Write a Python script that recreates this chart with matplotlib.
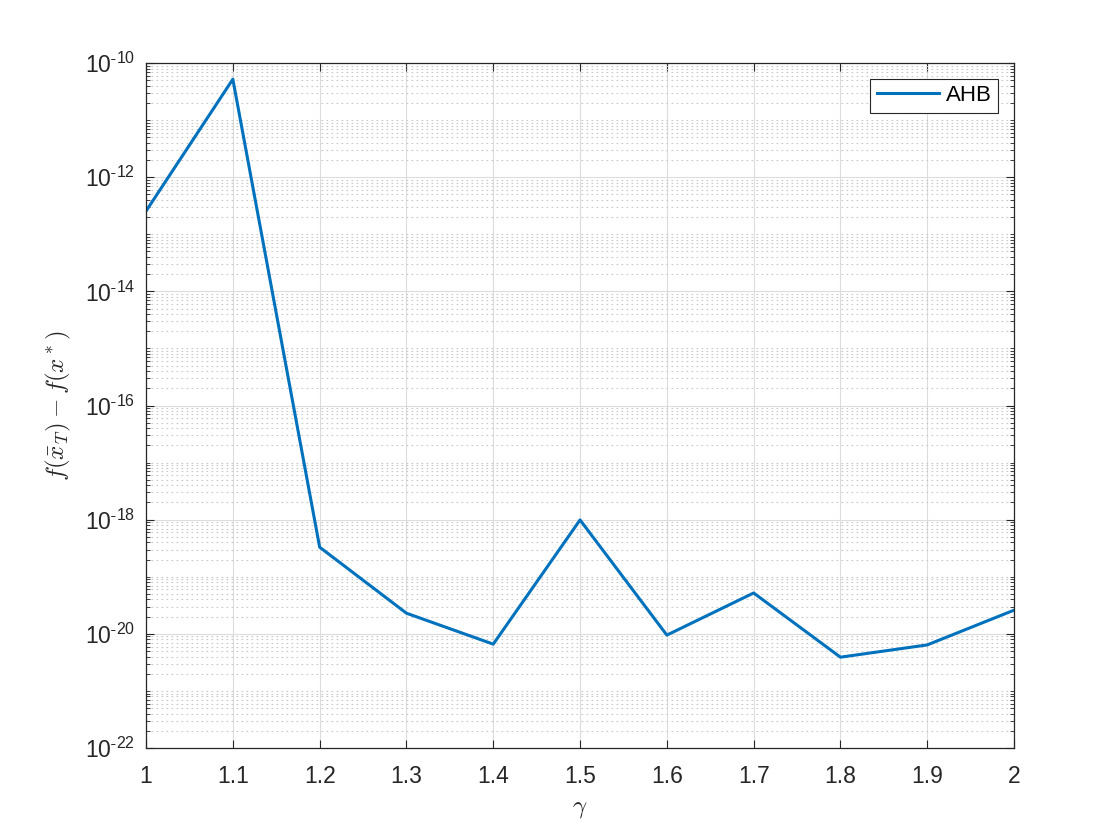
import numpy as np
import matplotlib
matplotlib.use("Agg")
import matplotlib.pyplot as plt
from matplotlib.ticker import FixedLocator, NullFormatter

gamma = [1.0, 1.1, 1.2, 1.3, 1.4, 1.5, 1.6, 1.7, 1.8, 1.9, 2.0]
gap = [2.55e-13, 5.2e-11, 3.3e-19, 2.3e-20, 6.6e-21, 9.9e-19,
       9.5e-21, 5.2e-20, 3.9e-21, 6.4e-21, 2.6e-20]
xticks = [1.0, 1.1, 1.2, 1.3, 1.4, 1.5, 1.6, 1.7, 1.8, 1.9, 2.0]
xticklabels = ["1", "1.1", "1.2", "1.3", "1.4", "1.5", "1.6", "1.7", "1.8", "1.9", "2"]
yexponents = list(range(-22, -9, 2))

plt.rcParams['font.family'] = ['Liberation Sans', 'DejaVu Sans']
plt.rcParams['mathtext.fontset'] = 'cm'

fig = plt.figure(figsize=(11.2, 8.4), dpi=100)
ax = fig.add_axes([0.1304, 0.1095, 0.775, 0.8155])

ax.plot(gamma, gap, color='#0072BD', linewidth=2.2, label='AHB')
ax.set_yscale('log')
ax.set_xlim(1, 2)
ax.set_ylim(1e-22, 1e-10)

ax.set_xticks(xticks)
ax.set_xticklabels(xticklabels)
ax.yaxis.set_major_locator(FixedLocator([10.0**e for e in yexponents]))
minor = []
for e in range(-22, -10):
    for s in range(1, 10):
        if e % 2 == 0 and s == 1:
            continue
        minor.append(s * 10.0**e)
ax.yaxis.set_minor_locator(FixedLocator(minor))
ax.yaxis.set_minor_formatter(NullFormatter())
ax.set_yticklabels([r'$\mathregular{10^{\text{-}%d}}$' % (-e) for e in yexponents])

ax.grid(True, which='major', color='#dcdcdc', linestyle='-', linewidth=0.8)
ax.grid(True, which='minor', axis='y', color='#c8c8c8', linestyle=(0, (1.5, 3)), linewidth=0.8)
ax.set_axisbelow(True)

ax.tick_params(which='both', direction='in', top=True, right=True, colors='#262626', labelsize=16.5)
ax.tick_params(which='major', length=6, width=0.8)
ax.tick_params(axis='x', which='major', pad=12)
ax.tick_params(axis='y', which='major', pad=8)
ax.tick_params(which='minor', length=3, width=0.6)
for sp in ax.spines.values():
    sp.set_color('#262626')
    sp.set_linewidth(0.9)

ax.set_xlabel(r'$\gamma$', fontsize=18, color='#262626', labelpad=6)
ax.set_ylabel(r'$f(\bar{x}_T) - f(x^*)$', fontsize=18, color='#262626', labelpad=8)

leg = ax.legend(loc='upper right', fontsize=16, frameon=True, fancybox=False,
                edgecolor='#262626', framealpha=1, borderaxespad=0.7,
                borderpad=0.3, handlelength=2.8, handletextpad=0.3)
leg.get_frame().set_linewidth(0.8)

fig.savefig('out.png', dpi=100)
